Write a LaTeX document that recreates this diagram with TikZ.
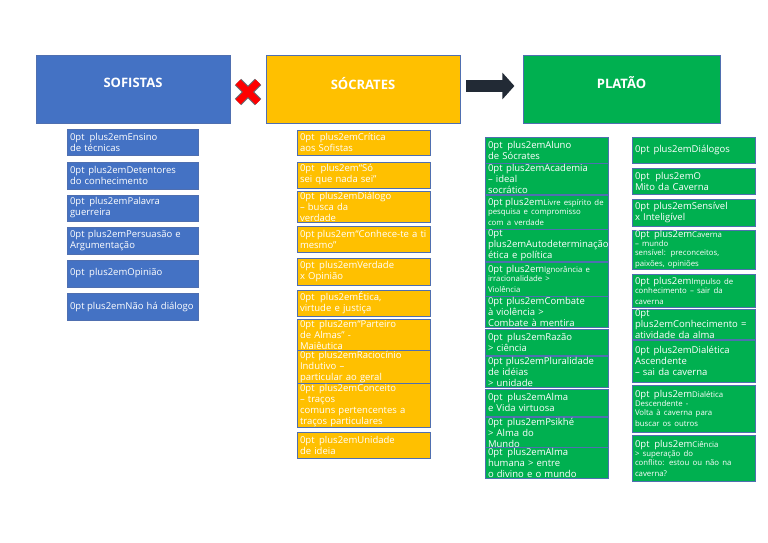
\documentclass[tikz,border=0pt]{standalone}
\usepackage{fontspec}
\setmainfont{Open Sans}
\usetikzlibrary{arrows.meta}
\definecolor{bl}{HTML}{4472C4}
\definecolor{ye}{HTML}{FFC000}
\definecolor{gr}{HTML}{00B050}
\definecolor{nv}{HTML}{222A35}
\definecolor{ed}{HTML}{4F6FB0}
\newcommand\smf{\fontsize{7.8}{9}\selectfont}
\begin{document}
\begin{tikzpicture}[x=1pt,y=-1pt,
 bx/.style={draw=ed,line width=0.8pt,text=white,align=center,inner sep=0.5pt,font=\fontsize{9.5}{11}\selectfont\hyphenpenalty=10000\exhyphenpenalty=10000},
 hd/.style={draw=ed,line width=0.8pt}]
\useasboundingbox (0,0) rectangle (768,543);
\newcommand\bxx[7]{\node[bx,fill=#1,minimum width=#3-#2,minimum height=#5-#4,text width=#3-#2-6] (#6) at ({(#2+#3)/2},{(#4+#5)/2}) {#7};}
% headers
\node[hd,fill=bl,minimum width=194,minimum height=68] (sof) at (133,89) {};
\node[text=white,font=\fontsize{13}{15}\selectfont\bfseries] (sofT) at (133,83) {SOFISTAS};
\node[hd,fill=ye,minimum width=194,minimum height=68] (soc) at (363,89) {};
\node[text=white,font=\fontsize{13}{15}\selectfont\bfseries] (socT) at (363,84) {SÓCRATES};
\node[hd,fill=gr,minimum width=197,minimum height=68] (pla) at (621.5,89) {};
\node[text=white,font=\fontsize{13}{15}\selectfont\bfseries] (plaT) at (621.5,83) {PLATÃO};
% red X
\draw[nv!70,line width=9pt] (238,82) -- (258,102) (258,82) -- (238,102);
\draw[red,line width=7pt] (238,82) -- (258,102) (258,82) -- (238,102);
% arrow
\draw[nv,line width=12pt,-{Triangle[length=12pt,width=26pt]}] (soc.east)++(6,-3) coordinate (a0) -- ++(48,0) coordinate (a1);
% Sofistas column
\bxx{bl}{67}{198}{129}{155}{s1}{Ensino de técnicas}
\bxx{bl}{67}{198}{162}{189}{s2}{Detentores do conhecimento}
\bxx{bl}{67}{198}{195}{221}{s3}{Palavra guerreira}
\bxx{bl}{67}{198}{227}{254}{s4}{Persuasão e\\Argumentação}
\bxx{bl}{67}{198}{260}{287}{s5}{Opinião}
\bxx{bl}{67}{198}{293}{320}{s6}{Não há diálogo}
% Socrates column
\bxx{ye}{297}{430}{130}{155}{m1}{Crítica aos Sofistas}
\bxx{ye}{297}{430}{162}{188}{m2}{“Só sei que nada sei”}
\bxx{ye}{297}{430}{194}{220}{m3}{Diálogo – busca da\\verdade}
\bxx{ye}{297}{430}{226}{252}{m4}{“Conhece-te a ti\\mesmo”}
\bxx{ye}{297}{430}{258}{285}{m5}{Verdade x Opinião}
\bxx{ye}{297}{430}{290}{316}{m6}{Ética, virtude e justiça}
\bxx{ye}{297}{430}{322}{348}{m7}{“Parteiro de Almas” -\\Maiêutica}
\bxx{ye}{297}{430}{354}{380}{m8}{Raciocínio Indutivo –\\particular ao geral}
\bxx{ye}{297}{430}{386}{425}{m9}{Conceito – traços\\comuns pertencentes a\\traços particulares}
\bxx{ye}{297}{430}{432}{458}{m10}{Unidade de ideia}
% Platao col 1
\bxx{gr}{485}{608}{137}{163}{p1}{Aluno de Sócrates}
\bxx{gr}{485}{608}{166}{192}{p2}{Academia – ideal\\socrático}
\bxx{gr}{485}{608}{195}{229}{p3}{\smf Livre espírito de\\pesquisa e compromisso\\com a verdade}
\bxx{gr}{485}{608}{232}{259}{p4}{Autodeterminação,\\ética e política}
\bxx{gr}{485}{608}{262}{296}{p5}{\smf Ignorância e\\irracionalidade >\\Violência}
\bxx{gr}{485}{608}{299}{325}{p6}{Combate à violência >\\Combate à mentira}
\bxx{gr}{485}{608}{329}{355}{p7}{Razão > ciência}
\bxx{gr}{485}{608}{358}{386}{p8}{Pluralidade de idéias\\> unidade}
\bxx{gr}{485}{608}{389}{416}{p9}{Alma e Vida virtuosa}
\bxx{gr}{485}{608}{419}{446}{p10}{Psikhé > Alma do\\Mundo}
\bxx{gr}{485}{608}{449}{477}{p11}{Alma humana > entre\\o divino e o mundo}
% Platao col 2
\bxx{gr}{632}{755}{137}{163}{q1}{Diálogos}
\bxx{gr}{632}{755}{168}{194}{q2}{O Mito da Caverna}
\bxx{gr}{632}{755}{199}{226}{q3}{Sensível x Inteligível}
\bxx{gr}{632}{755}{230}{269}{q4}{\smf Caverna – mundo\\sensível: preconceitos,\\paixões, opiniões}
\bxx{gr}{632}{755}{274}{307}{q5}{\smf Impulso de\\conhecimento – sair da\\caverna}
\bxx{gr}{632}{755}{311}{338}{q6}{Conhecimento =\\atividade da alma}
\bxx{gr}{632}{755}{340}{382}{q7}{Dialética Ascendente\\– sai da caverna}
\bxx{gr}{632}{755}{385}{432}{q8}{\smf Dialética Descendente -\\Volta à caverna para\\buscar os outros}
\bxx{gr}{632}{755}{435}{481}{q9}{\smf Ciência > superação do\\conflito: estou ou não na\\caverna?}
\end{tikzpicture}
\end{document}
